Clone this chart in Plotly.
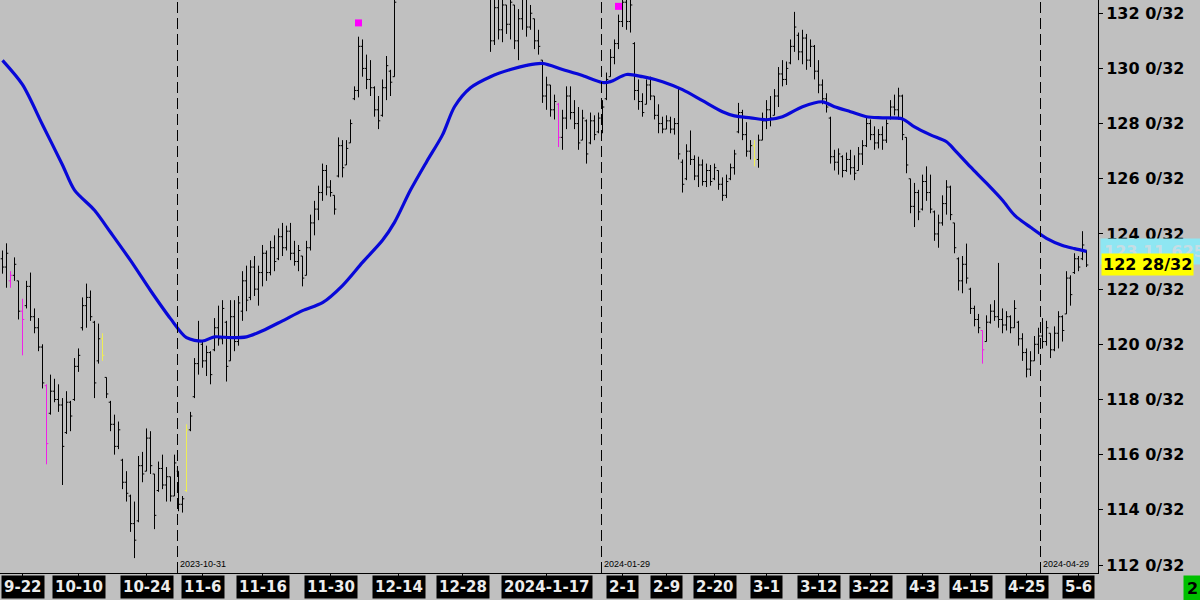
import plotly.graph_objects as go

# ---------------- data ----------------
HIGH = [
    123.40,123.66,122.65,123.15,122.30,121.65,122.30,122.60,121.30,120.95,
    120.00,118.55,118.90,118.75,118.55,118.05,118.30,117.95,119.50,119.85,
    121.70,122.20,121.95,120.85,120.75,120.40,118.80,117.95,117.45,117.20,
    115.85,115.40,114.55,114.30,115.95,116.10,116.95,116.85,115.30,115.75,
    116.00,115.55,115.20,116.00,115.40,114.50,117.10,117.55,119.50,120.85,
    120.10,119.95,119.75,120.95,121.40,121.60,120.85,121.60,121.60,121.75,
    122.65,122.85,123.05,123.20,122.85,123.60,123.40,123.75,123.95,124.20,
    124.40,124.30,124.40,123.75,123.60,123.20,123.75,124.70,125.20,125.75,
    126.55,126.50,125.95,125.40,127.50,127.40,127.40,128.15,129.35,131.15,
    131.05,130.50,130.30,129.35,129.00,129.60,130.45,129.95,132.80,133.40,
    133.80,134.20,134.50,134.30,134.60,134.90,134.70,134.40,134.60,134.80,
    134.50,134.20,134.00,133.80,134.10,133.90,133.60,133.80,133.50,133.40,
    133.60,133.30,132.90,132.70,132.60,132.70,132.30,132.80,132.30,132.15,
    132.70,132.60,132.30,131.80,131.40,130.30,129.70,129.40,129.05,128.75,
    128.50,129.35,129.35,128.85,128.60,128.50,128.15,128.40,128.30,128.40,
    128.85,129.85,130.70,131.05,131.95,132.70,132.60,132.60,130.95,129.60,
    129.10,129.60,129.70,129.00,128.70,128.25,128.30,128.25,128.20,129.25,
    126.70,127.25,127.75,126.85,126.80,126.70,126.55,126.50,126.55,126.30,
    126.05,126.15,126.55,127.05,128.75,128.50,128.05,127.40,127.40,127.60,
    128.40,128.85,129.00,129.25,130.05,130.30,130.25,131.05,132.05,131.30,
    131.40,131.25,131.05,130.85,130.30,129.60,129.10,128.25,127.05,127.10,
    126.85,126.95,127.05,126.85,127.15,127.40,128.25,128.15,127.90,127.80,
    127.90,128.15,128.85,129.05,129.30,129.05,127.50,126.00,125.85,125.60,
    126.15,126.45,126.15,124.85,124.70,125.40,125.95,125.75,124.40,123.15,
    123.20,123.65,122.05,121.40,121.10,120.50,121.05,121.45,121.60,122.95,
    121.30,121.20,121.05,121.60,120.85,120.40,119.85,119.75,120.30,120.60,
    120.95,120.85,120.40,120.65,121.20,121.05,122.65,122.50,123.30,123.20,
    124.10,123.40,
]
LOW = [
    122.56,122.05,122.05,122.30,120.90,119.60,121.30,120.85,120.40,119.75,
    118.40,115.65,117.45,117.90,117.55,114.90,116.75,116.85,117.95,119.00,
    120.50,120.60,120.85,118.05,119.30,119.40,118.05,116.85,116.00,116.20,
    114.75,114.30,113.20,112.25,113.55,115.00,115.40,115.30,113.30,114.65,
    114.75,114.30,114.30,114.50,113.95,113.90,114.65,116.85,118.05,118.90,
    119.15,118.85,118.55,119.75,119.95,120.00,118.65,119.40,119.75,119.95,
    120.85,121.20,121.60,121.75,121.40,122.10,122.30,122.50,122.65,123.05,
    123.20,123.40,123.05,122.85,122.65,122.10,122.50,123.40,123.95,124.50,
    125.20,125.40,125.35,124.70,126.05,126.05,126.50,127.30,128.85,128.95,
    129.70,129.25,129.00,128.25,127.80,128.25,128.85,129.00,129.70,132.60,
    132.90,133.30,133.60,133.50,133.70,134.00,133.80,133.50,133.60,133.90,
    133.70,133.30,133.10,133.00,133.20,133.00,132.80,132.90,132.70,132.70,
    132.80,132.60,130.60,130.85,131.05,130.95,131.25,131.05,130.70,130.30,
    131.40,131.15,131.40,130.70,130.50,128.75,128.50,128.25,128.15,127.15,
    127.05,127.80,128.15,127.80,127.05,127.40,126.55,127.25,127.40,127.65,
    127.65,128.85,129.70,130.15,130.70,131.50,131.40,131.30,128.85,128.50,
    128.25,128.70,128.85,128.15,127.65,127.65,127.80,127.65,127.60,126.70,
    125.50,125.95,126.50,125.95,125.70,125.75,125.70,125.75,125.95,125.60,
    125.20,125.30,125.95,126.15,127.65,127.40,126.80,126.70,126.45,126.40,
    127.40,127.80,127.90,128.30,128.60,129.35,129.40,130.15,130.60,130.30,
    130.15,129.95,130.05,129.60,129.10,128.70,128.40,126.55,126.30,126.15,
    126.05,126.25,126.15,125.95,126.30,126.50,127.15,127.40,127.05,127.10,
    127.05,127.30,128.15,128.30,128.15,127.40,126.20,124.75,124.25,124.50,
    124.85,125.20,124.75,123.75,123.50,124.30,124.70,124.50,123.30,121.95,
    121.85,122.20,121.10,120.65,120.40,119.30,120.10,120.75,120.85,120.60,
    120.40,120.50,120.40,120.60,119.95,119.40,118.80,118.85,119.40,119.65,
    119.85,119.95,119.50,119.75,119.85,120.10,121.10,121.40,122.55,122.65,
    123.05,122.80,
]
OPEN = [
    123.1,122.8,122.3,122.5,122.3,121.2,121.4,122.1,121.0,120.6,
    119.9,118.5,117.5,118.3,118.0,117.8,116.8,117.9,118.0,119.2,
    120.6,121.4,121.7,120.8,119.4,120.2,118.8,117.9,117.1,116.3,
    115.8,115.0,114.5,113.5,113.6,115.6,115.4,116.6,115.3,114.7,
    115.5,114.9,115.2,114.5,115.4,114.2,114.7,116.9,118.1,119.3,
    120.0,119.4,119.7,119.8,120.6,120.2,120.8,119.4,121.0,120.1,
    121.2,122.3,121.7,122.8,122.0,122.6,123.3,122.6,123.5,123.1,
    123.9,123.5,124.1,123.3,123.0,123.2,122.5,123.5,124.4,124.9,
    125.5,126.3,125.7,125.4,126.1,127.2,126.5,127.3,128.9,129.2,
    130.8,130.0,129.6,129.3,128.5,128.3,129.3,129.9,129.7,132.7,
    133.2,133.6,134.0,134.2,133.8,134.4,134.6,134.0,133.8,134.4,
    134.1,133.9,133.5,133.3,133.6,133.4,133.2,133.0,133.5,132.9,
    133.1,133.3,132.8,131.0,132.2,131.4,132.3,131.6,132.3,131.0,
    131.8,132.5,131.5,131.8,131.0,130.3,129.0,129.4,128.5,128.7,
    127.5,128.2,129.0,128.4,128.0,127.4,128.1,127.3,128.1,127.7,
    128.2,128.9,129.7,130.4,130.9,131.7,132.4,131.7,130.9,129.2,
    128.8,128.7,129.4,129.0,128.3,128.0,127.8,128.1,127.8,128.0,
    126.6,126.0,127.0,126.7,126.1,126.5,125.9,126.3,126.0,126.3,
    125.8,125.4,126.0,126.4,127.7,128.4,127.6,127.0,127.2,126.7,
    127.4,128.1,128.5,128.3,129.0,129.8,129.6,130.2,130.8,131.2,
    130.6,131.1,130.3,130.8,129.9,129.4,128.9,128.2,126.8,126.6,
    126.8,126.3,126.7,126.4,126.3,126.9,127.2,128.0,127.6,127.3,
    127.6,127.4,128.2,128.6,128.5,129.0,127.5,126.0,125.0,125.5,
    124.9,125.9,125.5,124.8,124.0,124.4,125.1,125.7,124.4,123.1,
    122.3,122.9,122.0,121.3,120.9,120.5,120.1,120.8,121.2,121.0,
    120.9,120.7,121.0,120.6,120.8,120.2,119.7,119.1,119.4,120.0,
    120.3,120.1,120.4,119.8,120.4,121.0,121.1,122.4,122.6,123.1,
    123.1,123.4,
]
CLOSE = [
    122.8,123.3,122.5,122.9,121.2,120.9,122.1,121.0,120.6,119.9,
    118.6,116.4,118.3,118.0,117.8,116.3,117.9,117.4,119.2,119.6,
    121.4,121.7,121.0,118.6,120.2,119.6,118.2,117.1,116.3,116.9,
    115.0,114.6,113.5,112.9,115.6,115.3,116.6,115.6,113.8,115.5,
    114.9,115.2,114.5,115.7,114.2,114.4,116.9,117.4,119.3,120.1,
    119.4,119.7,118.9,120.6,120.2,121.3,119.2,121.0,120.1,121.5,
    122.3,121.6,122.8,122.0,122.6,123.3,122.6,123.5,123.0,123.9,
    123.5,124.1,123.3,123.0,123.4,122.4,123.5,124.4,124.9,125.5,
    126.3,125.7,125.5,124.9,127.2,126.4,127.1,128.0,129.2,130.8,
    130.0,129.6,129.3,128.5,128.1,129.3,130.1,129.5,132.4,133.2,
    133.6,134.0,134.2,133.7,134.4,134.6,134.0,133.8,134.4,134.1,
    133.9,133.5,133.3,133.6,133.4,133.2,133.0,133.5,132.9,133.1,
    133.3,132.8,131.0,132.2,131.4,132.3,131.6,132.4,131.0,131.8,
    132.5,131.5,132.0,131.0,130.8,129.0,129.4,128.5,128.8,127.5,
    128.2,129.0,128.4,128.0,127.3,128.2,126.9,128.1,127.6,128.2,
    128.6,129.6,130.4,130.9,131.7,132.4,131.7,132.3,129.2,128.8,
    128.4,129.4,129.0,128.3,128.0,127.8,128.1,127.8,128.0,126.9,
    125.8,127.0,126.7,126.1,126.5,125.9,126.3,125.9,126.4,125.8,
    125.4,125.9,126.4,126.9,128.4,127.6,127.0,127.2,126.7,127.4,
    128.1,128.5,128.2,129.0,129.8,129.6,130.0,130.8,131.5,130.6,
    131.1,130.3,130.8,129.9,129.4,128.9,128.6,126.8,126.6,126.9,
    126.3,126.7,126.4,126.2,126.9,127.2,128.0,127.6,127.3,127.6,
    127.4,128.0,128.6,128.5,129.0,127.6,126.5,125.0,125.5,124.8,
    125.9,125.5,124.9,124.0,124.4,125.1,125.7,124.7,123.5,122.3,
    122.9,122.4,121.3,120.9,120.6,119.8,120.8,121.2,121.0,120.9,
    120.7,121.0,120.6,121.3,120.2,119.7,119.1,119.4,120.0,120.3,
    120.1,120.6,119.8,120.4,121.0,120.5,122.4,121.8,123.1,122.8,
    123.6,122.875,
]
PINK_IDX = [2, 5, 11, 139, 245]
YELLOW_IDX = [25, 46, 188]
MARK_IDX = [89, 154]
MARK_PRICE = [131.65, 132.25]

MA_IDX = [0,5,10,15,18,23,27,32,37,42,46,50,53,57,61,65,70,75,80,85,90,95,98,102,106,
          110,113,117,122,127,131,135,140,145,150,152,156,160,165,170,175,180,183,187,191,
          195,200,205,208,212,216,220,225,228,232,236,238,242,246,250,253,257,261,265,268,271]
MA_VAL = [130.29,129.41,127.96,126.50,125.59,124.86,124.06,123.04,121.95,120.93,
          120.24,120.12,120.27,120.24,120.27,120.49,120.85,121.22,121.51,122.13,
          122.97,123.77,124.42,125.59,126.61,127.59,128.61,129.30,129.70,129.96,
          130.11,130.18,129.96,129.74,129.49,129.52,129.78,129.70,129.52,129.23,
          128.83,128.43,128.28,128.21,128.14,128.25,128.61,128.79,128.61,128.43,
          128.25,128.21,128.17,127.88,127.59,127.34,127.05,126.43,125.84,125.22,
          124.68,124.24,123.84,123.58,123.47,123.37]

XTICK_POS = [5, 19, 36, 50, 65, 82, 99, 115, 136, 155, 166, 178, 191, 204, 217, 230, 242, 256, 269]
XTICK_TEXT = ["9-22", "10-10", "10-24", "11-6", "11-16", "11-30", "12-14", "12-28", "2024-1-17",
              "2-1", "2-9", "2-20", "3-1", "3-12", "3-22", "4-3", "4-15", "4-25", "5-6"]
SESSION_POS = [43.75, 149.75, 259.5]
SESSION_TEXT = ["2023-10-31", "2024-01-29", "2024-04-29"]
YTICKS = [112, 114, 116, 118, 120, 122, 124, 126, 128, 130, 132]
YTICK_TEXT = ["%d 0/32" % v for v in YTICKS]
LAST_CLOSE = 122.875
LAST_CLOSE_TEXT = "122 28/32"
LAST_MA = 123.363
LAST_MA_TEXT = "123 11.625"
CORNER_TEXT = "2"

# ---------------- figure ----------------
BG = "#c0c0c0"
N = len(CLOSE)
IDX = list(range(N))


def pick(values, sel):
    return [v if i in sel else None for i, v in enumerate(values)]


special = set(PINK_IDX) | set(YELLOW_IDX)
normal = set(IDX) - special

fig = go.Figure()
for sel, col in [(normal, "black"), (set(PINK_IDX), "#f020e8"), (set(YELLOW_IDX), "#eeee55")]:
    fig.add_trace(go.Ohlc(
        x=IDX, open=pick(OPEN, sel), high=pick(HIGH, sel), low=pick(LOW, sel), close=pick(CLOSE, sel),
        increasing=dict(line=dict(color=col, width=1)),
        decreasing=dict(line=dict(color=col, width=1)),
        tickwidth=0.45, hoverinfo="skip", showlegend=False,
    ))

fig.add_trace(go.Scatter(
    x=MA_IDX, y=MA_VAL, mode="lines", line=dict(color="#0808d8", width=3.2, shape="spline", smoothing=0.8),
    hoverinfo="skip", showlegend=False,
))
fig.add_trace(go.Scatter(
    x=MARK_IDX, y=MARK_PRICE, mode="markers",
    marker=dict(symbol="square", size=7, color="#ff00ff", line=dict(width=0)),
    hoverinfo="skip", showlegend=False,
))

shapes = []
annotations = []
for pos, txt in zip(SESSION_POS, SESSION_TEXT):
    shapes.append(dict(type="line", xref="x", yref="paper", x0=pos, x1=pos, y0=0, y1=1,
                       line=dict(color="black", width=1, dash="11px,5px")))
    annotations.append(dict(xref="x", yref="paper", x=pos, y=0, xanchor="left", yanchor="bottom",
                            xshift=1, yshift=3, text=txt, showarrow=False, borderpad=0,
                            font=dict(family="Liberation Sans", size=9, color="black")))

for pos, txt in zip(XTICK_POS, XTICK_TEXT):
    annotations.append(dict(xref="x", yref="paper", x=pos, y=0, xanchor="center", yanchor="top",
                            yshift=-2, text=txt, showarrow=False, bgcolor="black", borderpad=2,
                            font=dict(family="DejaVu Sans", size=15, color="#ececec", weight="bold")))

annotations.append(dict(xref="paper", yref="y", x=1, y=LAST_MA, xanchor="left", yanchor="middle",
                        xshift=2, text=LAST_MA_TEXT, showarrow=False, bgcolor="#8ee6f2", borderpad=3,
                        font=dict(family="DejaVu Sans", size=16, color="#c6dde4", weight="bold")))
annotations.append(dict(xref="paper", yref="y", x=1, y=LAST_CLOSE, xanchor="left", yanchor="middle",
                        xshift=3, text=LAST_CLOSE_TEXT, showarrow=False, bgcolor="#ffff00", borderpad=1,
                        font=dict(family="DejaVu Sans", size=16, color="black", weight="bold")))
annotations.append(dict(xref="paper", yref="paper", x=1183 / 1098, y=0, xanchor="left", yanchor="top",
                        yshift=-2, text=CORNER_TEXT, showarrow=False, bgcolor="#00c000", borderpad=3,
                        font=dict(family="DejaVu Sans", size=16, color="black", weight="bold")))

fig.update_layout(
    width=1200, height=600,
    margin=dict(l=0, r=102, t=0, b=27),
    paper_bgcolor=BG, plot_bgcolor=BG,
    showlegend=False, hovermode=False,
    shapes=shapes, annotations=annotations,
    xaxis=dict(range=[-0.625, 273.875], showgrid=False, zeroline=False, showline=True,
               linecolor="black", linewidth=1, ticks="outside", ticklen=3, tickcolor="black",
               tickvals=XTICK_POS, showticklabels=False, rangeslider=dict(visible=False),
               fixedrange=True),
    yaxis=dict(range=[111.71, 132.48], side="right", showgrid=False, zeroline=False,
               showline=True, linecolor="black", linewidth=1, ticks="outside", ticklen=4,
               tickcolor="black", tickvals=YTICKS, ticktext=YTICK_TEXT,
               tickfont=dict(family="DejaVu Sans", size=16, color="black", weight="bold"),
               fixedrange=True),
)

fig.write_html(
    "out.html",
    config={"displayModeBar": False, "staticPlot": True},
    post_script="document.documentElement.style.margin='0';document.body.style.margin='0';"
                "document.body.style.padding='0';document.body.style.overflow='hidden';"
                "document.body.style.background='#c0c0c0';",
)
